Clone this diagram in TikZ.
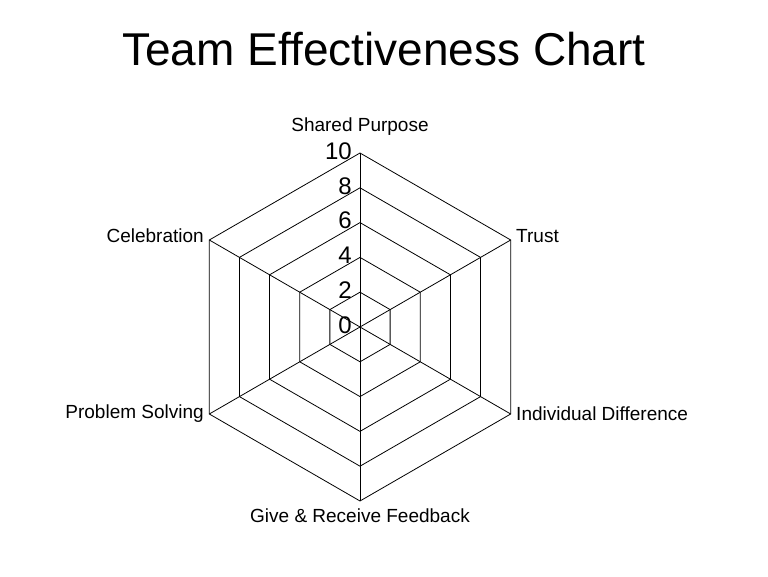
\documentclass[tikz,border=0pt]{standalone}
\usepackage{fontspec}
\setmainfont{Liberation Sans}
\usetikzlibrary{calc}
\begin{document}
\begin{tikzpicture}[x=1pt,y=1pt,
  ring/.style={draw=black,line width=0.8pt},
  axis/.style={draw=black,line width=0.8pt},
  lab/.style={font=\fontsize{19}{22}\selectfont},
  tick/.style={font=\fontsize{24}{26}\selectfont,anchor=east,inner sep=0pt}]
\useasboundingbox (0,0) rectangle (768,576);
\node (title) at (384,527) {\fontsize{46}{52}\selectfont Team Effectiveness Chart};
\coordinate (c) at (360,249);
\foreach \i in {1,...,6}{
  \coordinate (v\i) at ($(c)+({90-60*(\i-1)}:174)$);
}
\foreach \r in {34.8,69.6,104.4,139.2,174}{
  \draw[ring] ($(c)+(90:\r)$) -- ($(c)+(30:\r)$) -- ($(c)+(-30:\r)$) -- ($(c)+(-90:\r)$) -- ($(c)+(-150:\r)$) -- ($(c)+(150:\r)$) -- cycle;
}
\foreach \i in {1,...,6}{ \draw[axis] (c) -- (v\i); }
\foreach \k/\n in {0/0,1/2,2/4,3/6,4/8,5/10}{
  \node[tick] (t\n) at ($(c)+(-8,{34.8*\k+2})$) {\n};
}
\node[lab,anchor=south] (l1) at ($(v1)+(0,14)$) {Shared Purpose};
\node[lab,anchor=west] (l2) at ($(v2)+(2,4)$) {Trust};
\node[lab,anchor=west] (l3) at ($(v3)+(2,0)$) {Individual Difference};
\node[lab,anchor=north] (l4) at ($(v4)+(0,-4)$) {Give \& Receive Feedback};
\node[lab,anchor=east] (l5) at ($(v5)+(-2,0)$) {Problem Solving};
\node[lab,anchor=east] (l6) at ($(v6)+(-2,4)$) {Celebration};
\end{tikzpicture}
\end{document}
